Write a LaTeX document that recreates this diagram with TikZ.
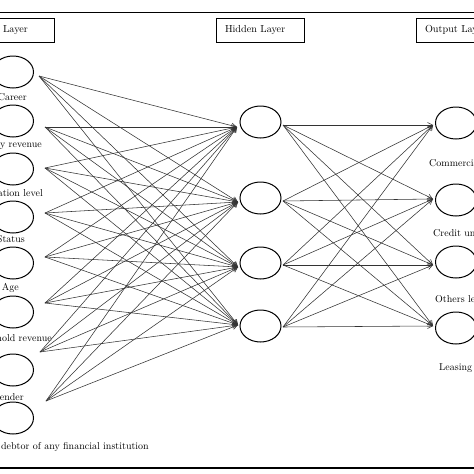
\documentclass[tikz,border=0pt]{standalone}
\usetikzlibrary{arrows.meta,shapes.geometric}
\begin{document}
\begin{tikzpicture}[x=1pt,y=-1pt,
  neuron/.style={draw=black, line width=1pt, ellipse, minimum width=41pt, minimum height=32pt, inner sep=0pt},
  layerbox/.style={draw=black, line width=0.9pt, text width=70pt, align=left, inner xsep=9pt, minimum height=24pt, font=\fontsize{10.2}{12}\selectfont},
  lab/.style={inner sep=0pt, font=\fontsize{10}{12}\selectfont},
  conn/.style={draw=black!80, line width=0.55pt, -{Straight Barb[length=5pt,width=5pt]}}]
\useasboundingbox (0,0) rectangle (474,474);
\clip (0,0) rectangle (474,474);
\fill[white] (0,0) rectangle (474,474);
% frame lines
\coordinate (tl) at (-5,12); \coordinate (tr) at (480,12);
\coordinate (bl) at (-5,468); \coordinate (br) at (480,468);
\draw[line width=0.9pt] (tl) -- (tr);
\draw[line width=1.8pt] (bl) -- (br);
% layer boxes
\node[layerbox] (inbox) at (10,30) {Input Layer};
\node[layerbox] (hidbox) at (260,30) {Hidden Layer};
\node[layerbox] (outbox) at (460,30) {Output Layer};
% input neurons
\foreach \i/\y in {1/72,2/121,3/169,4/217,5/263,6/312,7/370,8/418}
  \node[neuron] (in\i) at (13,\y) {};
% hidden neurons
\foreach \i/\y in {1/122,2/198,3/263,4/326}
  \node[neuron] (hid\i) at (260.5,\y) {};
% output neurons
\foreach \i/\y in {1/123,2/200,3/262,4/328}
  \node[neuron] (out\i) at (456,\y) {};
% input labels
\node[lab, anchor=east] (lin1) at (27,97) {Career};
\node[lab, anchor=east] (lin2) at (42,145) {Monthly revenue};
\node[lab, anchor=east] (lin3) at (43,193) {Education level};
\node[lab, anchor=east] (lin4) at (25,239) {Marital Status};
\node[lab, anchor=east] (lin5) at (19,288) {Age};
\node[lab, anchor=east] (lin6) at (52,338) {Household revenue};
\node[lab, anchor=east] (lin7) at (24,397) {Gender};
\node[lab, anchor=east] (lin8) at (149,447) {Is debtor of any financial institution};
% output labels
\node[lab, anchor=west] (lout1) at (429,163) {Commercial banks};
\node[lab, anchor=west] (lout2) at (433,233) {Credit unions};
\node[lab, anchor=west] (lout3) at (435,299) {Others lenders};
\node[lab, anchor=west] (lout4) at (439,368) {Leasing companies};
% connector ends
\coordinate (is1) at (39,76);
\coordinate (is2) at (45,127);
\coordinate (is3) at (45,168);
\coordinate (is4) at (45,213);
\coordinate (is5) at (45,257);
\coordinate (is6) at (45,303);
\coordinate (is7) at (40,352);
\coordinate (is8) at (46,401);
\coordinate (hi1) at (237,127);
\coordinate (hi2) at (238,202);
\coordinate (hi3) at (238,267);
\coordinate (hi4) at (238,325);
\coordinate (ho1) at (283,125);
\coordinate (ho2) at (283,201);
\coordinate (ho3) at (283,265);
\coordinate (ho4) at (283,327);
\coordinate (oi1) at (433,125);
\coordinate (oi2) at (433,199);
\coordinate (oi3) at (433,265);
\coordinate (oi4) at (433,326);
% connectors
\foreach \i in {1,...,8}
  \foreach \j in {1,...,4}
    \draw[conn] (is\i) -- (hi\j);
\foreach \i in {1,...,4}
  \foreach \j in {1,...,4}
    \draw[conn] (ho\i) -- (oi\j);
\end{tikzpicture}
\end{document}
